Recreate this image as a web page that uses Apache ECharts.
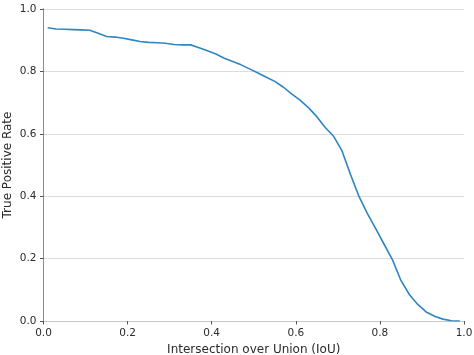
<!DOCTYPE html>
<html>
<head>
<meta charset="utf-8">
<script src="https://cdn.jsdelivr.net/npm/echarts@6/dist/echarts.min.js"></script>
<style>html,body{margin:0;padding:0;background:#fff}#c{width:474px;height:355px}</style>
</head>
<body>
<div id="c"></div>
<script>
// IoU thresholds
var iou = [0.01,0.03,0.05,0.07,0.09,0.11,0.13,0.15,0.17,0.19,0.21,0.23,0.25,0.27,0.29,0.31,0.33,0.35,0.37,0.39,0.41,0.43,0.45,0.47,0.49,0.51,0.53,0.55,0.57,0.59,0.61,0.63,0.65,0.67,0.69,0.71,0.73,0.75,0.77,0.79,0.81,0.83,0.85,0.87,0.89,0.91,0.93,0.95,0.97,0.99];
// True positive rate
var tpr = [0.940,0.936,0.935,0.934,0.933,0.932,0.922,0.912,0.910,0.906,0.901,0.896,0.893,0.892,0.890,0.886,0.885,0.885,0.876,0.866,0.856,0.842,0.832,0.821,0.808,0.795,0.781,0.768,0.750,0.728,0.708,0.684,0.655,0.620,0.592,0.545,0.470,0.400,0.345,0.296,0.246,0.196,0.130,0.085,0.053,0.029,0.015,0.006,0.001,0.000];
var xTitle = 'Intersection over Union (IoU)';
var yTitle = 'True Positive Rate';

var font = 'DejaVu Sans';
var chart = echarts.init(document.getElementById('c'), null, {renderer:'canvas'});
var axisCommon = {
  type:'value', min:0, max:1, interval:0.2,
  axisLine:{show:true, lineStyle:{color:'#555', width:1}},
  axisTick:{show:true, length:3.5, lineStyle:{color:'#555'}},
  axisLabel:{color:'#2b2b2b', fontFamily:font, fontSize:10.5, formatter:function(v){return v.toFixed(1);}},
  nameTextStyle:{color:'#2b2b2b', fontFamily:font, fontSize:12}
};
chart.setOption({
  animation:false,
  grid:{left:43.5, top:9, width:420.5, height:312, containLabel:false, outerBoundsMode:'none'},
  xAxis:[
    Object.assign({}, axisCommon, {position:'bottom', name:xTitle, nameLocation:'middle', nameGap:22.5, nameMoveOverlap:false, splitLine:{show:false},
      axisLabel:Object.assign({}, axisCommon.axisLabel, {margin:7})}),
    {type:'value', min:0, max:1, position:'top', axisLine:{show:true, lineStyle:{color:'#c8c8c8'}}, axisTick:{show:false}, axisLabel:{show:false}, splitLine:{show:false}}
  ],
  yAxis:[
    Object.assign({}, axisCommon, {position:'left', name:yTitle, nameLocation:'middle', nameGap:29.5, nameMoveOverlap:false, splitLine:{show:true, lineStyle:{color:'#dcdcdc', width:1}},
      axisLabel:Object.assign({}, axisCommon.axisLabel, {margin:7})}),
    {type:'value', min:0, max:1, position:'right', axisLine:{show:true, lineStyle:{color:'#888'}}, axisTick:{show:false}, axisLabel:{show:false}, splitLine:{show:false}}
  ],
  series:[{
    type:'line', xAxisIndex:0, yAxisIndex:0, showSymbol:false, symbol:'none',
    lineStyle:{color:'#2f86c0', width:1.6},
    data: iou.map(function(x,i){return [x, tpr[i]];})
  }]
});
</script>
</body>
</html>
